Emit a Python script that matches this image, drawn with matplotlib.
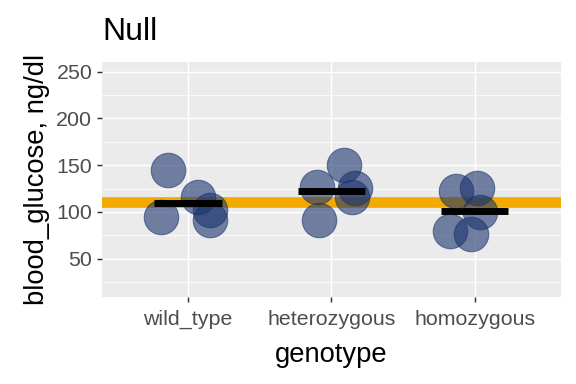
import numpy as np
import matplotlib
matplotlib.use("Agg")
import matplotlib.pyplot as plt

plt.rcParams['font.family'] = ['Liberation Sans', 'DejaVu Sans']

# data
genotypes = ['wild_type', 'heterozygous', 'homozygous']
wild_type = [144.9, 116.3, 94.9, 102.0, 91.3]
heterozygous = [150.2, 127.0, 125.2, 116.3, 91.3]
homozygous = [122.7, 125.9, 100.2, 79.9, 76.3]
# horizontal jitter of each point (in category units)
jit_wt = [-0.14, 0.07, -0.19, 0.156, 0.151]
jit_het = [0.09, -0.10, 0.167, 0.144, -0.084]
jit_hom = [-0.13, 0.016, 0.035, -0.174, -0.023]

groups = [wild_type, heterozygous, homozygous]
jitters = [jit_wt, jit_het, jit_hom]
grand_mean = np.mean(np.concatenate(groups))

fig = plt.figure(figsize=(6, 4), dpi=96)
ax = fig.add_axes([0.177, 0.2273, 0.9734 - 0.177, 0.8393 - 0.2273])
ax.set_facecolor('#EBEBEB')
for s in ax.spines.values():
    s.set_visible(False)

ax.set_xlim(0.4, 3.6)
ax.set_ylim(9.2, 260.8)
ax.set_yticks([50, 100, 150, 200, 250])
ax.set_yticks([25, 75, 125, 175, 225], minor=True)
ax.set_xticks([1, 2, 3])
ax.set_xticklabels(genotypes)
ax.grid(which='major', color='white', linewidth=1.1)
ax.grid(which='minor', axis='y', color='white', linewidth=0.55)
ax.set_axisbelow(True)

ax.axhline(grand_mean, color='#F2A900', linewidth=8, zorder=1)

for i, (vals, jit) in enumerate(zip(groups, jitters)):
    xs = i + 1 + np.array(jit)
    ax.scatter(xs, vals, s=670, facecolor='#1B346E', edgecolor='#1B346E',
               alpha=0.6, linewidth=0.8, zorder=2)
    m = np.mean(vals)
    ax.plot([i + 1 - 0.235, i + 1 + 0.235], [m, m], color='black',
            linewidth=5.2, solid_capstyle='butt', zorder=3)

ax.tick_params(axis='both', which='major', labelsize=16, labelcolor='#4D4D4D',
               color='#333333', length=3.7, width=1.1)
ax.tick_params(axis='x', which='major', pad=6)
ax.tick_params(axis='y', which='minor', length=0)
ax.set_xlabel('genotype', fontsize=20.5, color='black', labelpad=10)
ax.set_ylabel('blood_glucose, ng/dl', fontsize=20.5, color='black', labelpad=5)
ax.set_title('Null', fontsize=24, loc='left', pad=16)

fig.savefig('out.png', dpi=96)
plt.close(fig)
